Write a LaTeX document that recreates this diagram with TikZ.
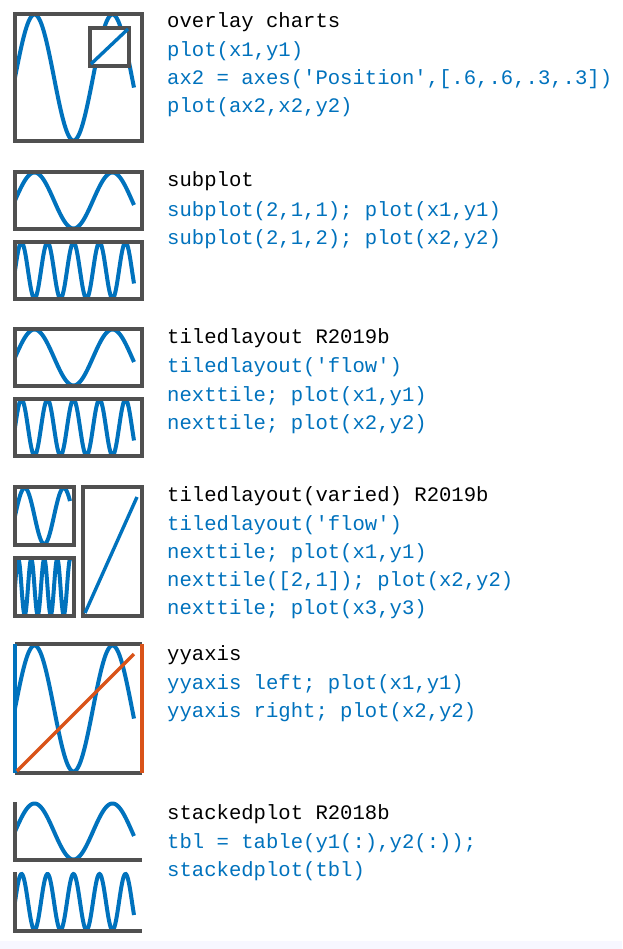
\documentclass[tikz,border=0pt]{standalone}
\usepackage{fontspec}
\setmonofont{Liberation Mono}
\definecolor{mblue}{HTML}{0072BD}
\definecolor{morange}{HTML}{D95319}
\definecolor{axgray}{HTML}{505050}
\begin{document}
\begin{tikzpicture}[x=1pt,y=-1pt,
  ax/.style={draw=axgray,line width=3.6pt},
  wave/.style={draw=mblue,line width=4pt,samples=160},
  ttl/.style={anchor=west,inner sep=0pt,font=\ttfamily\fontsize{20.6}{20.6}\selectfont,text=black},
  code/.style={anchor=west,inner sep=0pt,font=\ttfamily\fontsize{20.6}{20.6}\selectfont,text=mblue}]
\useasboundingbox (0,0) rectangle (622,949);
\fill[fill=white] (0,0) rectangle (622,949);
\fill[fill=blue!3] (0,941) rectangle (622,949);
% overlay
\draw[wave,domain=15:134] plot (\x,{77.5-63*sin((\x-15)/78*360)});
\draw[ax] (15,14) rectangle (142,141);
\draw[ax,fill=white] (90,28) rectangle (129,66);
\draw[wave,line width=3.4pt] (91,64) -- (128,29);
% subplot
\draw[wave,domain=15:134] plot (\x,{200.5-28*sin((\x-15)/78*360)});
\draw[ax] (15,172) rectangle (142,229);
\draw[wave,domain=15:134] plot (\x,{270.5-28*sin((\x-15)/26*360)});
\draw[ax] (15,242) rectangle (142,299);
% tiled
\draw[wave,domain=15:134] plot (\x,{357.5-28*sin((\x-15)/78*360)});
\draw[ax] (15,329) rectangle (142,386);
\draw[wave,domain=15:134] plot (\x,{427.5-28*sin((\x-15)/26*360)});
\draw[ax] (15,399) rectangle (142,456);
% varied
\draw[wave,domain=15:70] plot (\x,{516-28*sin((\x-15)/39*360)});
\draw[ax] (15,487) rectangle (74,545);
\draw[wave,domain=15:70] plot (\x,{587-28*sin((\x-15)/13*360)});
\draw[ax] (15,558) rectangle (74,616);
\draw[ax] (83,487) rectangle (142,616);
\draw[wave,line width=3.4pt] (85,613) -- (137,497);
% yyaxis
\draw[wave,domain=15:134] plot (\x,{708.5-63*sin((\x-15)/78*360)});
\draw[ax] (15,644) -- (142,644) (15,773) -- (142,773);
\draw[draw=mblue,line width=3.6pt] (15,644) -- (15,773);
\draw[draw=morange,line width=3.6pt] (142,644) -- (142,773);
\draw[draw=morange,line width=3.4pt] (17,771) -- (134,654);
% stacked
\draw[wave,domain=15:134] plot (\x,{831.5-28*sin((\x-15)/78*360)});
\draw[ax] (15,802) -- (15,860) -- (142,860);
\draw[wave,domain=15:134] plot (\x,{902-28*sin((\x-15)/26*360)});
\draw[ax] (15,872) -- (15,931) -- (142,931);
% texts
\node[ttl] (t1) at (167,22) {overlay charts};
\node[code] (c11) at (167,51) {plot(x1,y1)};
\node[code] (c12) at (167,79) {ax2 = axes('Position',[.6,.6,.3,.3])};
\node[code] (c13) at (167,107) {plot(ax2,x2,y2)};
\node[ttl] (t2) at (167,181) {subplot};
\node[code] (c21) at (167,211) {subplot(2,1,1); plot(x1,y1)};
\node[code] (c22) at (167,239) {subplot(2,1,2); plot(x2,y2)};
\node[ttl] (t3) at (167,338) {tiledlayout R2019b};
\node[code] (c31) at (167,367) {tiledlayout('flow')};
\node[code] (c32) at (167,396) {nexttile; plot(x1,y1)};
\node[code] (c33) at (167,424) {nexttile; plot(x2,y2)};
\node[ttl] (t4) at (167,496) {tiledlayout(varied) R2019b};
\node[code] (c41) at (167,525) {tiledlayout('flow')};
\node[code] (c42) at (167,553) {nexttile; plot(x1,y1)};
\node[code] (c43) at (167,581) {nexttile([2,1]); plot(x2,y2)};
\node[code] (c44) at (167,609) {nexttile; plot(x3,y3)};
\node[ttl] (t5) at (167,655) {yyaxis};
\node[code] (c51) at (167,684) {yyaxis left; plot(x1,y1)};
\node[code] (c52) at (167,712) {yyaxis right; plot(x2,y2)};
\node[ttl] (t6) at (167,814) {stackedplot R2018b};
\node[code] (c61) at (167,843) {tbl = table(y1(:),y2(:));};
\node[code] (c62) at (167,871) {stackedplot(tbl)};
\end{tikzpicture}
\end{document}
